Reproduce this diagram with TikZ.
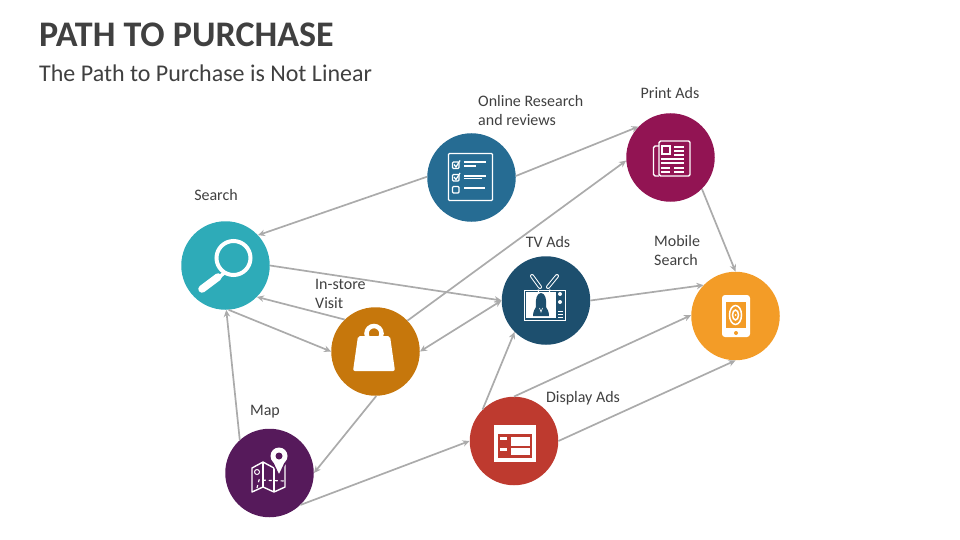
\documentclass[tikz,border=0pt]{standalone}
\usepackage{fontspec}
\setmainfont{Carlito}
\usetikzlibrary{arrows.meta}
\definecolor{searchcol}{HTML}{2EABB8}
\definecolor{researchcol}{HTML}{266C93}
\definecolor{printcol}{HTML}{921453}
\definecolor{tvcol}{HTML}{1D4F6E}
\definecolor{mobilecol}{HTML}{F39C27}
\definecolor{storecol}{HTML}{C6770C}
\definecolor{displaycol}{HTML}{BE3A2F}
\definecolor{mapcol}{HTML}{561A5B}
\definecolor{textcol}{HTML}{404040}
\definecolor{linkcol}{HTML}{ABABAB}
\tikzset{
    stage/.style={circle, minimum size=88.5pt, inner sep=0pt, fill=#1},
    link/.style={draw=linkcol, line width=1.7pt, -{Stealth[length=7pt,width=6.5pt]}},
    twolink/.style={link, {Stealth[length=7pt,width=6.5pt]}-{Stealth[length=7pt,width=6.5pt]}},
    lab/.style={text=textcol, font=\fontsize{16}{19}\selectfont, inner sep=0pt, align=left},
    iconline/.style={draw=white, line width=1.2pt},
}
\begin{document}
\begin{tikzpicture}[x=1pt, y=-1pt]
    \useasboundingbox (0,0) rectangle (960,540);

    % Titoli
    \node[anchor=west, inner sep=0pt, text=textcol, font=\fontsize{36}{40}\selectfont\bfseries] (title) at (39,35) {PATH TO PURCHASE};
    \node[anchor=west, inner sep=0pt, text=textcol, font=\fontsize{24}{28}\selectfont] (subtitle) at (39,73) {The Path to Purchase is Not Linear};

    % Cerchi
    \node[stage=searchcol] (search) at (225.5,265.5) {};
    \node[stage=researchcol] (research) at (471.5,177.5) {};
    \node[stage=printcol] (print) at (670.5,157.5) {};
    \node[stage=tvcol] (tv) at (546,300.5) {};
    \node[stage=mobilecol] (mobile) at (735.5,316) {};
    \node[stage=storecol] (store) at (375.5,351.5) {};
    \node[stage=displaycol] (display) at (514,441) {};
    \node[stage=mapcol] (map) at (269.5,473) {};

    % Frecce
    \draw[link] (research.179) -- (search.43);
    \draw[link] (research.2) -- (print.136);
    \draw[link] (store.44) -- (print.184);
    \draw[link] (print.-45) -- (mobile.90);
    \draw[link] (search.0) -- (tv.180);
    \draw[link] (tv.0) -- (mobile.136);
    \draw[twolink] (store.0) -- (tv.180);
    \draw[link] (store.134) -- (search.-45);
    \draw[link] (search.-86) -- (store.180);
    \draw[link] (map.132) -- (search.-89);
    \draw[link] (store.-89) -- (map.0);
    \draw[link] (map.-46) -- (display.180);
    \draw[link] (display.135) -- (tv.225);
    \draw[link] (display.90) -- (mobile.179);
    \draw[link] (display.0) -- (mobile.-90);

    % Etichette
    \node[lab] (searchlab) at (216,195) {Search};
    \node[lab, anchor=west] (researchlab) at (478,110.5) {Online Research\\and reviews};
    \node[lab] (printlab) at (670,93) {Print Ads};
    \node[lab] (tvlab) at (548,242) {TV Ads};
    \node[lab, anchor=west] (mobilelab) at (654,251) {Mobile\\Search};
    \node[lab, anchor=west] (storelab) at (315,293.5) {In-store\\Visit};
    \node[lab] (maplab) at (265,412) {Map};
    \node[lab] (displaylab) at (583,398.5) {Display Ads};

    % Lente
    \draw[white, line width=4pt] (233.5,258) circle (17);
    \draw[white, line width=3.5pt] (224,273) -- (216,280);
    \draw[white, line width=7.5pt, line cap=round] (218,277) -- (202,289);

    % Lista
    \draw[white, line width=1.2pt, rounded corners=1pt] (448.5,153.5) rectangle (492.5,200.5);
    \foreach \y in {165,177.5,189.5} {
        \draw[iconline, rounded corners=1pt] (452.5,{\y-3}) rectangle (459,{\y+3.5});
    }
    \draw[iconline] (454,164.5) -- (456,167) -- (460,160.5);
    \draw[iconline] (454,177) -- (456,179.5) -- (460,173);
    \draw[iconline] (464,162) -- (486,162);
    \draw[iconline] (464,166) -- (476,166);
    \draw[white, line width=1.8pt] (464,176) -- (486,176);
    \draw[iconline] (464,178.5) -- (482,178.5);
    \draw[white, line width=1.8pt] (464,188) -- (485,188);

    % Giornale
    \draw[white, line width=1.4pt, rounded corners=1.5pt] (659,141) rectangle (690,176);
    \draw[white, line width=1.4pt, rounded corners=1.5pt] (659,146) -- (653.5,146) -- (653.5,176) -- (659,176);
    \draw[white, line width=1.8pt] (662,146) rectangle (670,154);
    \foreach \y in {147,151,155} {\draw[iconline] (674,\y) -- (684,\y);}
    \foreach \y in {159,163} {\draw[iconline] (661,\y) -- (684,\y);}
    \foreach \y in {168,172} {
        \draw[iconline] (661,\y) -- (670,\y);
        \draw[iconline] (674,\y) -- (684,\y);
    }

    % Televisore
    \draw[white, line width=1pt] (524,290) rectangle (565,320);
    \draw[white, line width=4pt, line cap=round] (540,287) -- (532,276);
    \draw[white, line width=4pt, line cap=round] (548,287) -- (557,276);
    \draw[tvcol, line width=2pt, line cap=round] (540,287) -- (532,276);
    \draw[tvcol, line width=2pt, line cap=round] (548,287) -- (557,276);
    \draw[white, line width=1pt] (538,289.5) arc[start angle=180, end angle=0, radius=6];
    \fill[white] (526,292) rectangle (556,318);
    \fill[tvcol] (533,316) .. controls (533,311) and (535,309) .. (536,307) .. controls (535,299) and (537,293) .. (541,293) .. controls (545,293) and (547,299) .. (546,307) .. controls (547,309) and (549,311) .. (549,316) -- cycle;
    \draw[white, line width=0.6pt] (539.5,308) -- (541,312) -- (542.5,308);
    \fill[white] (560,294) circle (2);
    \fill[white] (560,302) circle (2);
    \foreach \y in {311,314,317} {\draw[white, line width=0.8pt] (558,\y) -- (563,\y);}

    % Telefono
    \fill[white, rounded corners=3pt] (722,295) rectangle (750,337);
    \fill[mobilecol] (726,302) rectangle (746,328);
    \fill[mobilecol] (736,333) circle (2);
    \draw[white, line width=1.5pt] (735.5,315) ellipse (6 and 9.5);
    \draw[white, line width=1.5pt] (735.5,315) ellipse (3 and 5);
    \fill[white] (735.5,315) circle (1);

    % Borsa
    \draw[white, line width=4.5pt] (374,333.5) circle (7.5);
    \fill[white, rounded corners=2pt] (358,336) -- (390,336) -- (395,371) -- (353,371) -- cycle;

    % Annuncio
    \fill[white] (494,425) rectangle (536,462);
    \fill[displaycol] (498,434) rectangle (532,458);
    \fill[white] (500,437) rectangle (507,440);
    \fill[white] (500,448) rectangle (507,451);
    \fill[white] (511,437) rectangle (530,446);
    \fill[white] (511,448) rectangle (530,455);

    % Mappa
    \draw[white, line width=1.4pt, line join=round] (252,468) -- (263,462) -- (274,468) -- (285,465) -- (285,487) -- (274,492) -- (263,487) -- (252,492) -- cycle;
    \draw[white, line width=1.2pt] (263,462) -- (263,487) (274,468) -- (274,492);
    \draw[white, line width=1pt] (257,472) circle (2.5);
    \draw[white, line width=1.2pt, dashed] (257,488) -- (259,480) -- (285,481);
    \fill[white, draw=mapcol, line width=1.5pt] (279,476) -- (271.2,459.5) -- (286.8,459.5) -- cycle;
    \fill[white] (279,456) circle (8.5);
    \fill[mapcol] (279,456) circle (3.5);
\end{tikzpicture}
\end{document}
